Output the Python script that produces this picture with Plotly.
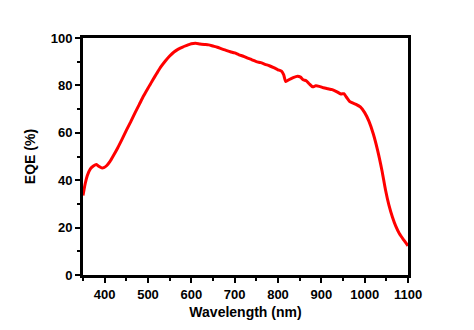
import plotly.graph_objects as go

wavelength = [350, 355, 360, 367, 374, 381, 387, 393, 398, 405, 412, 420, 430, 440, 450, 460, 470, 480,
              490, 500, 510, 520, 530, 540, 550, 560, 570, 580, 590, 600, 610, 620, 630, 640, 650,
              660, 670, 680, 690, 700, 710, 720, 730, 740, 750, 760, 770, 780, 790, 800, 808, 813,
              818, 825, 835, 845, 852, 858, 865, 872, 880, 887, 895, 905, 915, 925, 935, 945, 952,
              958, 965, 972, 980, 990, 1000, 1010, 1020, 1030, 1040, 1048, 1056, 1064, 1072, 1080,
              1090, 1100]
eqe = [33.5, 38.5, 42.0, 44.8, 46.0, 46.6, 45.8, 45.2, 45.3, 46.2, 47.8, 50.3, 53.6, 57.2, 61.0,
       64.6, 68.4, 72.0, 75.6, 78.8, 82.0, 85.0, 87.9, 90.3, 92.4, 94.1, 95.3, 96.2, 96.9, 97.6,
       97.8, 97.5, 97.3, 97.1, 96.6, 96.1, 95.4, 94.8, 94.2, 93.7, 92.9, 92.3, 91.5, 90.8, 90.0,
       89.6, 88.9, 88.3, 87.5, 86.6, 86.0, 84.5, 81.6, 82.4, 83.3, 83.9, 83.5, 82.4, 82.0, 80.7,
       79.4, 79.8, 79.6, 79.0, 78.6, 78.2, 77.4, 76.4, 76.5, 75.0, 73.3, 72.6, 72.0, 70.9, 68.5,
       64.8, 59.5, 52.5, 44.0, 36.0, 29.5, 24.5, 20.5, 17.5, 14.8, 12.3]

fig = go.Figure()
fig.add_trace(go.Scatter(x=wavelength, y=eqe, mode="lines",
                         line=dict(color="#ff0000", width=3, shape="spline", smoothing=0.6),
                         showlegend=False))

font = dict(family="Liberation Sans, Arial, sans-serif", size=13, color="black")
fig.update_layout(
    width=474, height=330,
    margin=dict(l=83, r=66, t=38, b=55),
    paper_bgcolor="white", plot_bgcolor="white",
    font=font,
)
fig.update_xaxes(
    range=[350, 1100], dtick=100, tick0=0,
    showgrid=False, zeroline=False,
    showline=True, linecolor="black", linewidth=3, mirror=True,
    ticks="outside", ticklen=5, tickwidth=2, tickcolor="black",
    minor=dict(ticks="outside", dtick=50, tick0=0, ticklen=3, tickwidth=2, tickcolor="black"),
    tickfont=dict(family="Liberation Sans, Arial", size=13, color="black", weight="bold"),
    title=dict(text="<b>Wavelength (nm)</b>", font=dict(family="Liberation Sans, Arial", size=14), standoff=7),
)
fig.update_yaxes(
    range=[0, 100], dtick=20,
    showgrid=False, zeroline=False,
    showline=True, linecolor="black", linewidth=3, mirror=True,
    ticks="outside", ticklen=5, tickwidth=2, tickcolor="black",
    minor=dict(ticks="outside", dtick=10, ticklen=3, tickwidth=2, tickcolor="black"),
    tickfont=dict(family="Liberation Sans, Arial", size=13, color="black", weight="bold"),
    title=dict(text="<b>EQE (%)</b>", font=dict(family="Liberation Sans, Arial", size=14), standoff=12),
)
fig.write_html("out.html")
